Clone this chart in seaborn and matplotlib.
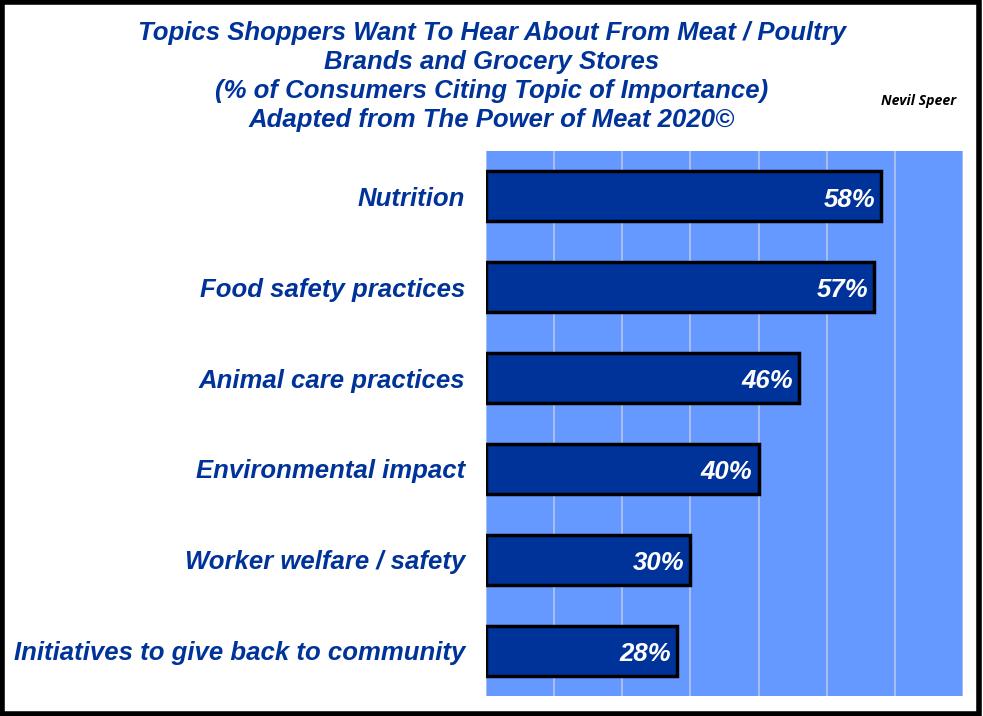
import matplotlib
matplotlib.use("Agg")
import matplotlib.pyplot as plt
import seaborn as sns
import pandas as pd
from matplotlib.patches import Rectangle

categories = ["Nutrition", "Food safety practices", "Animal care practices",
              "Environmental impact", "Worker welfare / safety",
              "Initiatives to give back to community"]
values = [58, 57, 46, 40, 30, 28]
title_lines = ["Topics Shoppers Want To Hear About From Meat / Poultry",
               "Brands and Grocery Stores",
               "(% of Consumers Citing Topic of Importance)",
               "Adapted from The Power of Meat 2020\u00a9"]

sns.set_theme(style="white")
plt.rcParams['font.family'] = ['Liberation Sans', 'DejaVu Sans']

df = pd.DataFrame({"topic": categories, "pct": values})

fig = plt.figure(figsize=(9.83, 7.16), dpi=100)
ax = fig.add_axes([486/983, 1-696/716, (963-486)/983, (696-151)/716])
ax.set_facecolor("#6699FF")

sns.barplot(data=df, y="topic", x="pct", orient="h", ax=ax, color="#003399",
            width=0.55, edgecolor="black", linewidth=2.5, saturation=1, zorder=3)

ax.set_xlim(0, 70)
ax.set_xticks(range(0, 71, 10))
ax.set_xticklabels([])
ax.tick_params(axis="x", length=0)
ax.grid(axis="x", color="#B4C6EC", linewidth=1.2, zorder=0)
ax.set_axisbelow(True)
for s in ax.spines.values():
    s.set_visible(False)
ax.set_xlabel("")
ax.set_ylabel("")
ax.tick_params(axis="y", length=0, pad=15)
for lbl in ax.get_yticklabels():
    lbl.set_fontsize(18.5)
    lbl.set_fontweight("bold")
    lbl.set_fontstyle("italic")
    lbl.set_color("#003399")

for i, v in enumerate(values):
    ax.text(v - 0.9, i + 0.035, f"{v}%", ha="right", va="center", color="white",
            fontsize=18.5, fontweight="bold", fontstyle="italic", zorder=5)

ys = [33, 62, 91, 120]
for line, y in zip(title_lines, ys):
    fig.text(492/983, 1 - y/716, line, ha="center", va="center",
             fontsize=18.5, fontweight="bold", fontstyle="italic", color="#003399")

fig.text(919/983, 1 - 101/716, "Nevil Speer", ha="center", va="center",
         fontsize=10.2, fontweight="bold", fontstyle="italic", color="black",
         family=["Open Sans", "DejaVu Sans"])

fig.patches.append(Rectangle((0.002, 0.003), 0.994, 0.994, transform=fig.transFigure,
                             fill=False, edgecolor="black", linewidth=4))

fig.savefig("out.png", dpi=100)
